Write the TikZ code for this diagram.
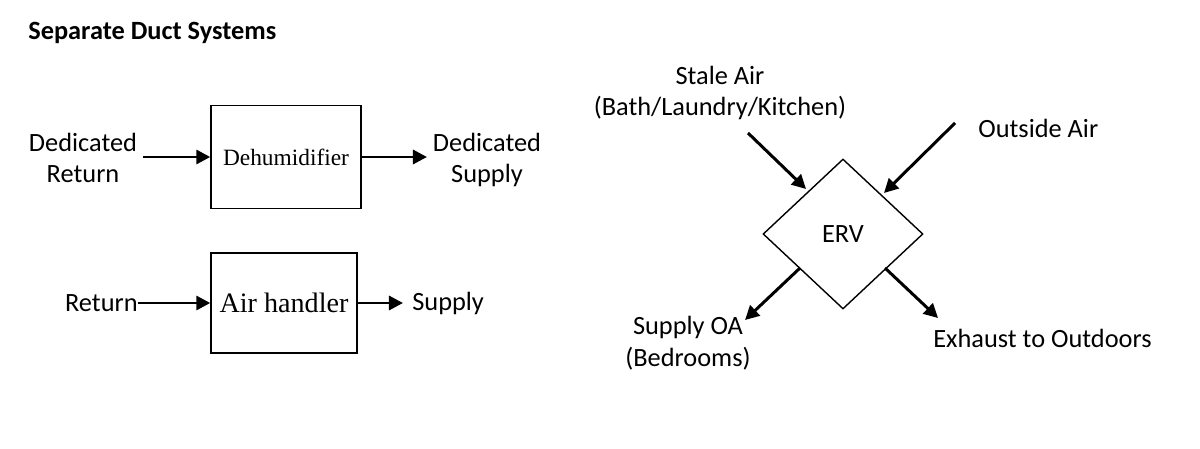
\documentclass[tikz,border=0pt]{standalone}
\usepackage{fontspec}
\setmainfont{Carlito}
\newfontfamily\serifbox{Liberation Serif}
\usetikzlibrary{shapes.geometric,arrows.meta}
\begin{document}
\begin{tikzpicture}[x=0.02cm,y=-0.02cm,
  lbl/.style={font=\fontsize{15}{18}\selectfont,align=center,inner sep=0},
  box/.style={draw,line width=0.8pt,minimum width=3cm,minimum height=2.06cm,font=\serifbox\fontsize{13.3}{15}\selectfont},
  arr/.style={line width=1.7pt,-{Triangle[length=8pt,width=8pt]}}]
\useasboundingbox (0,0) rectangle (1200,449);
\node[anchor=west,font=\bfseries\fontsize{15}{18}\selectfont,inner sep=0] (title) at (28,33) {Separate Duct Systems};
\node[box] (dh) at (286,157) {Dehumidifier};
\node[box,minimum width=2.92cm,minimum height=2cm,font=\serifbox\fontsize{16}{18}\selectfont] (ah) at (284,303) {Air handler};
\node[lbl] (dr) at (83,158) {Dedicated\\Return};
\node[lbl] (ds) at (487,160) {Dedicated\\Supply};
\node[lbl,anchor=east] (r) at (138,303) {Return};
\node[lbl,anchor=west] (s) at (412,303) {Supply};
\coordinate (p1) at (143,157); \coordinate (p2) at (427,157);
\coordinate (p3) at (403,303);
\draw[arr] (p1) -- (dh.west |- p1);
\draw[arr] (dh.east |- p2) -- (p2);
\draw[arr] (r.east) -- (ah.west);
\draw[arr] (ah.east) -- (p3);
\node[draw,diamond,line width=0.8pt,minimum width=3.2cm,minimum height=3cm,inner sep=0,font=\fontsize{15}{18}\selectfont] (erv) at (843,234) {ERV};
\node[lbl] (stale) at (720,93) {Stale Air\\(Bath/Laundry/Kitchen)};
\node[lbl,anchor=west] (oa) at (978,128) {Outside Air};
\node[lbl] (soa) at (688,343) {Supply OA\\(Bedrooms)};
\node[lbl,anchor=west] (ex) at (933,338) {Exhaust to Outdoors};
\coordinate (a1) at (748,133); \coordinate (a2) at (806,189);
\coordinate (b1) at (955,123); \coordinate (b2) at (884,193);
\coordinate (c1) at (800,268); \coordinate (c2) at (745,320);
\coordinate (d1) at (885,268); \coordinate (d2) at (938,318);
\draw[arr] (a1) -- (a2);
\draw[arr] (b1) -- (b2);
\draw[arr] (c1) -- (c2);
\draw[arr] (d1) -- (d2);
\end{tikzpicture}
\end{document}
